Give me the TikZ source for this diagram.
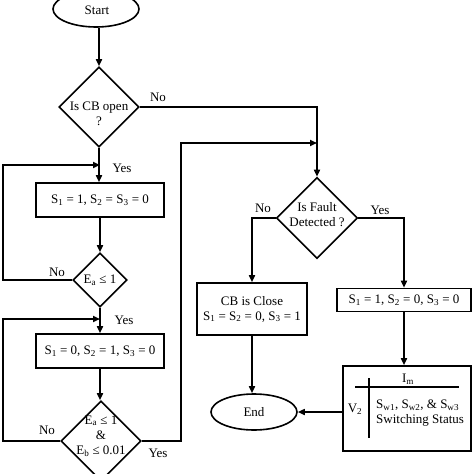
\documentclass[tikz,border=0pt]{standalone}
\usepackage{fontspec}
\setmainfont{Liberation Serif}
\usetikzlibrary{shapes.geometric,arrows.meta}
\begin{document}
\begin{tikzpicture}[x=1pt,y=-1pt,
  every node/.style={font=\fontsize{13}{15}\selectfont},
  ln/.style={line width=1.6pt},
  arr/.style={ln,-{Triangle[length=7pt,width=6pt]}},
  dia/.style={draw,ln,diamond,inner sep=0pt,minimum width=#1,minimum height=#1},
  box/.style={draw,ln,rectangle,inner sep=0pt,align=center},
  term/.style={draw,ln,ellipse,minimum width=86pt,minimum height=36pt,inner sep=0pt},
  txt/.style={align=center,inner sep=0pt},
  lab/.style={inner sep=0pt}]
\fill[white] (0,0) rectangle (474,474);
\useasboundingbox (0,0) rectangle (474,474);
% nodes
\node[term] (start) at (96,9) {};
\node[txt] (startt) at (97,10) {Start};
\node[dia=80pt] (d1) at (99,107) {};
\node[txt] (d1t) at (99,114) {Is CB open\\?};
\node[box,minimum width=128pt,minimum height=34pt] (b1) at (100,200) {S\textsubscript{1} = 1, S\textsubscript{2} = S\textsubscript{3} = 0};
\node[dia=54pt] (d2) at (100,280) {};
\node[txt] (d2t) at (100,280) {E\textsubscript{a} ≤ 1};
\node[box,minimum width=128pt,minimum height=34pt] (b2) at (100,351) {S\textsubscript{1} = 0, S\textsubscript{2} = 1, S\textsubscript{3} = 0};
\node[dia=80pt] (d3) at (101,441) {};
\node[txt] (d3t) at (101,436) {E\textsubscript{a} ≤ 1\\\&\\E\textsubscript{b} ≤ 0.01};
\node[dia=81pt] (f) at (317,218) {};
\node[txt] (ft) at (317,215) {Is Fault\\Detected ?};
\node[box,minimum width=110pt,minimum height=52pt] (cb) at (252,309) {CB is Close\\S\textsubscript{1} = S\textsubscript{2} = 0, S\textsubscript{3} = 1};
\node[box,minimum width=134pt,minimum height=23pt] (sb) at (404,300) {S\textsubscript{1} = 1, S\textsubscript{2} = 0, S\textsubscript{3} = 0};
\node[box,minimum width=128pt,minimum height=85pt] (big) at (407,408.5) {};
\node[term] (end) at (254,412) {};
\node[txt] (endt) at (254,412) {End};
% inside big box
\node[txt] (im) at (408,379) {I\textsubscript{m}};
\node[txt] (v2) at (355,409) {V\textsubscript{2}};
\node[txt,align=left,anchor=west] (sw) at (376,413) {S\textsubscript{w1}, S\textsubscript{w2}, \& S\textsubscript{w3}\\Switching Status};
\coordinate (h1) at (355,387);
\coordinate (h2) at (459,387);
\coordinate (v1) at (369,378);
\coordinate (v3) at (369,438);
\draw[ln] (h1) -- (h2);
\draw[ln] (v1) -- (v3);
% junction coordinates
\coordinate (m1) at (100,165);
\coordinate (m2) at (100,319);
\coordinate (j2) at (317,143);
% connectors
\draw[arr] (d1.north |- start.south) -- (d1.north);
\draw[arr] (d1.south) -- (d1.south |- b1.north);
\draw[arr] (b1.south) -- (d2.north);
\draw[arr] (d2.south) -- (b2.north);
\draw[arr] (b2.south) -- (b2.south |- d3.north);
\draw[arr] (d2.west) -- (3,280) -- (3,165) -- (m1);
\draw[arr] (d3.west) -- (3,441) -- (3,319) -- (m2);
\draw[arr] (d1.east) -| (f.north);
\draw[arr] (d3.east) -- (181,441) -- (181,143) -- (j2);
\draw[arr] (f.west) -| (cb.north);
\draw[arr] (f.east) -| (sb.north);
\draw[arr] (cb.south) -- (cb.south |- end.north);
\draw[arr] (sb.south) -- (sb.south |- big.north);
\draw[arr] (big.west |- end.east) -- (end.east);
% labels
\node[lab] (l1) at (158,97) {No};
\node[lab] (l2) at (122,168) {Yes};
\node[lab] (l3) at (57,272) {No};
\node[lab] (l4) at (124,320) {Yes};
\node[lab] (l5) at (47,430) {No};
\node[lab] (l6) at (158,453) {Yes};
\node[lab] (l7) at (263,208) {No};
\node[lab] (l8) at (380,210) {Yes};
\end{tikzpicture}
\end{document}
